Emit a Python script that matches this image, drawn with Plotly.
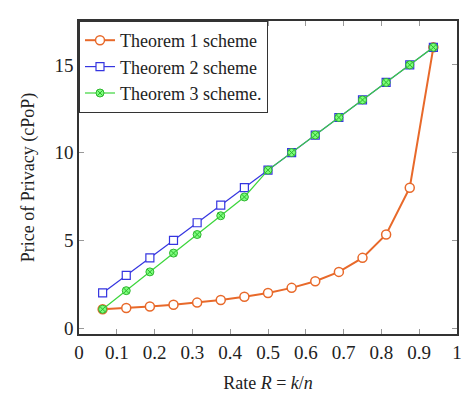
import plotly.graph_objects as go

# rate values R = k/n, n = 16
rate = [0.0625, 0.125, 0.1875, 0.25, 0.3125, 0.375, 0.4375, 0.5,
        0.5625, 0.625, 0.6875, 0.75, 0.8125, 0.875, 0.9375]

# price of privacy
thm1 = [1.07, 1.14, 1.23, 1.33, 1.45, 1.6, 1.78, 2.0,
        2.29, 2.67, 3.2, 4.0, 5.33, 8.0, 16.0]
thm2 = [2, 3, 4, 5, 6, 7, 8, 9, 10, 11, 12, 13, 14, 15, 16]
thm3 = [1.07, 2.13, 3.2, 4.27, 5.33, 6.4, 7.47, 9,
        10, 11, 12, 13, 14, 15, 16]

names = ['Theorem 1 scheme', 'Theorem 2 scheme', 'Theorem 3 scheme.']

x_ticks = [0, 0.1, 0.2, 0.3, 0.4, 0.5, 0.6, 0.7, 0.8, 0.9, 1]
x_tick_text = ['0', '0.1', '0.2', '0.3', '0.4', '0.5', '0.6', '0.7', '0.8', '0.9', '1']
y_ticks = [0, 5, 10, 15]

serif = 'Liberation Serif'

fig = go.Figure()

fig.add_trace(go.Scatter(
    x=rate, y=thm1, mode='lines+markers', name=names[0],
    line=dict(color='#E8692A', width=2),
    marker=dict(symbol='circle', size=9, color='white',
                line=dict(color='#E8692A', width=1.5))))

fig.add_trace(go.Scatter(
    x=rate, y=thm2, mode='lines+markers', name=names[1],
    line=dict(color='#3535E0', width=1.2),
    marker=dict(symbol='square', size=8, color='white',
                line=dict(color='#3535E0', width=1.2))))

fig.add_trace(go.Scatter(
    x=rate, y=thm3, mode='lines+markers', name=names[2],
    line=dict(color='#3CD63C', width=1.2),
    marker=dict(symbol='circle-x', size=8, color='#7CFF7C',
                line=dict(color='#2FB52F', width=1))))

axis_common = dict(
    showline=True, linecolor='#333333', linewidth=1.5, mirror='ticks',
    ticks='inside', ticklen=5, tickcolor='#999999', tickwidth=1,
    showgrid=False, zeroline=False, automargin=False,
    tickfont=dict(family=serif, size=19, color='#222222'),
)

# page body adds an 8px offset, so the figure is a bit smaller than the window
fig.update_layout(
    width=466, height=405,
    margin=dict(l=71, r=17, t=13, b=79),
    paper_bgcolor='white', plot_bgcolor='white',
    font=dict(family=serif, size=18, color='#222222'),
    showlegend=True,
    legend=dict(x=0, y=1, xanchor='left', yanchor='top',
                bgcolor='white', bordercolor='#333333', borderwidth=1,
                font=dict(family=serif, size=18, color='#222222'),
                itemwidth=30, tracegroupgap=0),
    xaxis=dict(range=[0, 1], tickvals=x_ticks, ticktext=x_tick_text,
               title=dict(text='Rate <i>R</i> = <i>k</i>/<i>n</i>',
                          font=dict(family=serif, size=18)),
               **axis_common),
    yaxis=dict(range=[-0.34, 17.5], tickvals=y_ticks,
               title=dict(text='Price of Privacy (cPoP)',
                          font=dict(family=serif, size=18)),
               **axis_common),
)

fig.write_html("out.html")
